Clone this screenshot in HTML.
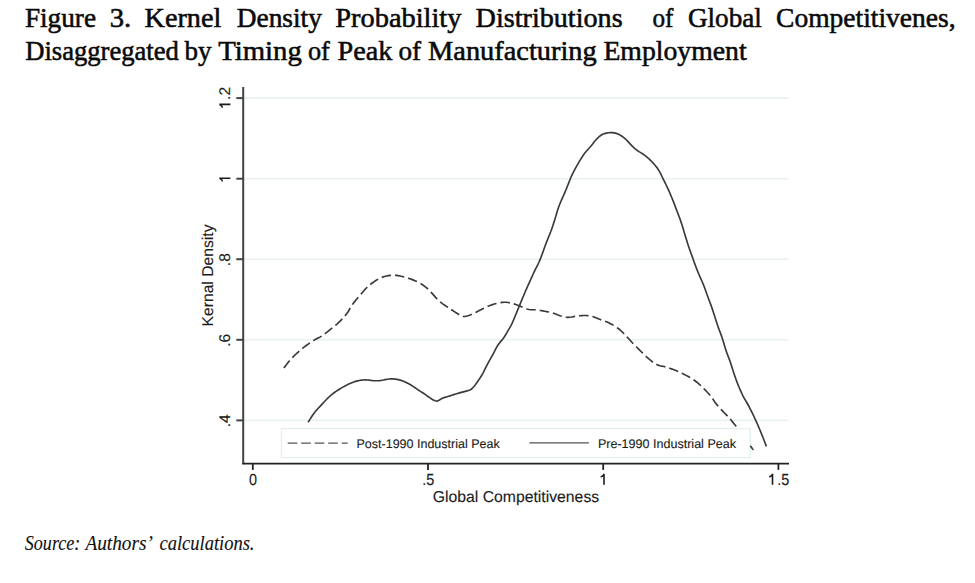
<!DOCTYPE html>
<html><head><meta charset="utf-8"><style>
html,body{margin:0;padding:0;background:#fff;width:975px;height:583px;overflow:hidden}
svg{position:absolute;left:0;top:0}
</style></head><body>
<svg width="975" height="583" viewBox="0 0 975 583">
<g font-family="Liberation Serif" font-weight="normal" font-size="27" fill="#0a0a0a" stroke="#0a0a0a" stroke-width="0.55"><text x="24.9" y="26.8" transform="translate(24.9 0) scale(1.009 1) translate(-24.9 0)">Figure</text><text x="109.7" y="26.8" transform="translate(109.7 0) scale(1.064 1) translate(-109.7 0)">3.</text><text x="144.5" y="26.8" transform="translate(144.5 0) scale(1.046 1) translate(-144.5 0)">Kernel</text><text x="236.8" y="26.8" transform="translate(236.8 0) scale(1.013 1) translate(-236.8 0)">Density</text><text x="335.3" y="26.8" transform="translate(335.3 0) scale(1.051 1) translate(-335.3 0)">Probability</text><text x="475.6" y="26.8" transform="translate(475.6 0) scale(1.043 1) translate(-475.6 0)">Distributions</text><text x="652.4" y="26.8" transform="translate(652.4 0) scale(0.933 1) translate(-652.4 0)">of</text><text x="687.9" y="26.8" transform="translate(687.9 0) scale(1.007 1) translate(-687.9 0)">Global</text><text x="776.1" y="26.8" transform="translate(776.1 0) scale(1.019 1) translate(-776.1 0)">Competitivenes,</text><text x="25.2" y="60.0" transform="translate(25.2 0) scale(0.986 1) translate(-25.2 0)">Disaggregated</text><text x="184.4" y="60.0" transform="translate(184.4 0) scale(1.000 1) translate(-184.4 0)">by</text><text x="218.2" y="60.0" transform="translate(218.2 0) scale(1.065 1) translate(-218.2 0)">Timing</text><text x="308.0" y="60.0" transform="translate(308.0 0) scale(0.973 1) translate(-308.0 0)">of</text><text x="337.5" y="60.0" transform="translate(337.5 0) scale(1.046 1) translate(-337.5 0)">Peak</text><text x="398.5" y="60.0" transform="translate(398.5 0) scale(1.004 1) translate(-398.5 0)">of</text><text x="428.1" y="60.0" transform="translate(428.1 0) scale(1.051 1) translate(-428.1 0)">Manufacturing</text><text x="603.4" y="60.0" transform="translate(603.4 0) scale(1.027 1) translate(-603.4 0)">Employment</text>
</g>
<g stroke="#eaf1f1" stroke-width="1.6" fill="none"><line x1="244" y1="420.4" x2="788.5" y2="420.4" /><line x1="244" y1="339.8" x2="788.5" y2="339.8" /><line x1="244" y1="259.2" x2="788.5" y2="259.2" /><line x1="244" y1="178.7" x2="788.5" y2="178.7" /><line x1="244" y1="98.1" x2="788.5" y2="98.1" /></g>
<rect x="281.5" y="428.6" width="468.6" height="28.9" fill="#fff" stroke="#e6efef" stroke-width="1.2"/>
<g fill="none" stroke="#3a3a3a" stroke-width="1.65" stroke-linejoin="round">
<path d="M308.10 422.30 L309.16 420.60 L310.22 418.89 L311.29 417.22 L312.39 415.55 L313.53 413.91 L314.74 412.32 L316.01 410.78 L317.34 409.28 L318.70 407.81 L320.06 406.35 L321.42 404.89 L322.77 403.41 L324.12 401.94 L325.49 400.47 L326.87 399.03 L328.29 397.62 L329.76 396.26 L331.27 394.96 L332.84 393.72 L334.44 392.52 L336.07 391.37 L337.74 390.26 L339.43 389.19 L341.14 388.16 L342.87 387.15 L344.62 386.19 L346.39 385.26 L348.18 384.37 L350.00 383.54 L351.83 382.75 L353.70 382.03 L355.59 381.40 L357.52 380.87 L359.47 380.45 L361.44 380.15 L363.43 379.96 L365.42 379.89 L367.41 379.96 L369.40 380.19 L371.37 380.47 L373.36 380.68 L375.35 380.75 L377.35 380.70 L379.34 380.56 L381.33 380.35 L383.30 380.05 L385.26 379.68 L387.22 379.29 L389.19 379.00 L391.18 378.87 L393.17 378.92 L395.16 379.10 L397.13 379.41 L399.08 379.83 L401.00 380.37 L402.88 381.05 L404.72 381.82 L406.53 382.67 L408.31 383.58 L410.06 384.56 L411.77 385.58 L413.45 386.66 L415.10 387.79 L416.74 388.94 L418.39 390.07 L420.08 391.14 L421.79 392.17 L423.49 393.22 L425.14 394.35 L426.74 395.54 L428.33 396.75 L429.97 397.89 L431.65 398.96 L433.38 399.95 L435.18 400.79 L437.12 401.16 L438.92 400.34 L440.57 399.26 L442.32 398.34 L444.16 397.60 L446.07 397.00 L447.99 396.44 L449.90 395.85 L451.80 395.25 L453.71 394.65 L455.62 394.06 L457.54 393.48 L459.45 392.91 L461.38 392.36 L463.31 391.84 L465.24 391.34 L467.18 390.84 L469.09 390.26 L470.92 389.50 L472.42 388.22 L473.76 386.75 L475.01 385.20 L476.20 383.59 L477.36 381.96 L478.49 380.31 L479.59 378.65 L480.67 376.97 L481.73 375.27 L482.73 373.54 L483.68 371.78 L484.57 369.99 L485.46 368.20 L486.35 366.40 L487.25 364.62 L488.17 362.85 L489.13 361.09 L490.12 359.36 L491.13 357.63 L492.13 355.89 L493.09 354.14 L494.00 352.36 L494.88 350.57 L495.77 348.78 L496.71 347.02 L497.76 345.32 L498.92 343.70 L500.18 342.15 L501.48 340.63 L502.75 339.08 L503.94 337.48 L505.04 335.82 L506.07 334.11 L507.07 332.37 L508.06 330.64 L509.09 328.92 L510.11 327.20 L511.07 325.45 L511.95 323.66 L512.76 321.83 L513.54 319.99 L514.31 318.14 L515.07 316.29 L515.82 314.44 L516.58 312.59 L517.35 310.74 L518.11 308.89 L518.88 307.05 L519.64 305.20 L520.40 303.35 L521.16 301.50 L521.92 299.65 L522.69 297.80 L523.46 295.96 L524.24 294.11 L525.03 292.28 L525.82 290.44 L526.63 288.61 L527.44 286.78 L528.25 284.96 L529.07 283.13 L529.89 281.31 L530.71 279.48 L531.53 277.66 L532.36 275.84 L533.19 274.02 L534.03 272.21 L534.89 270.40 L535.77 268.60 L536.68 266.82 L537.59 265.04 L538.47 263.25 L539.30 261.43 L540.07 259.58 L540.80 257.72 L541.51 255.85 L542.20 253.98 L542.89 252.10 L543.57 250.22 L544.25 248.34 L544.92 246.45 L545.60 244.57 L546.30 242.70 L547.02 240.83 L547.77 238.98 L548.53 237.13 L549.30 235.28 L550.05 233.43 L550.78 231.57 L551.47 229.69 L552.13 227.80 L552.78 225.91 L553.40 224.01 L554.02 222.11 L554.62 220.20 L555.21 218.29 L555.78 216.37 L556.33 214.45 L556.89 212.53 L557.47 210.62 L558.08 208.71 L558.73 206.82 L559.43 204.95 L560.18 203.09 L560.96 201.25 L561.77 199.42 L562.58 197.60 L563.41 195.78 L564.22 193.95 L565.02 192.12 L565.80 190.27 L566.55 188.42 L567.29 186.56 L568.01 184.70 L568.73 182.83 L569.46 180.97 L570.22 179.12 L571.00 177.28 L571.81 175.45 L572.66 173.64 L573.54 171.84 L574.45 170.06 L575.39 168.30 L576.36 166.55 L577.36 164.82 L578.37 163.09 L579.40 161.38 L580.45 159.68 L581.51 157.98 L582.59 156.30 L583.70 154.64 L584.86 153.01 L586.10 151.44 L587.44 149.96 L588.81 148.51 L590.15 147.03 L591.42 145.49 L592.66 143.92 L593.89 142.34 L595.16 140.80 L596.48 139.30 L597.86 137.85 L599.32 136.50 L600.90 135.30 L602.62 134.32 L604.46 133.60 L606.38 133.10 L608.35 132.77 L610.34 132.62 L612.32 132.65 L614.29 132.89 L616.22 133.36 L618.09 134.04 L619.87 134.92 L621.56 135.98 L623.17 137.16 L624.72 138.42 L626.19 139.76 L627.60 141.18 L628.96 142.64 L630.32 144.11 L631.70 145.56 L633.12 146.96 L634.59 148.31 L636.13 149.58 L637.75 150.75 L639.43 151.84 L641.13 152.89 L642.80 153.98 L644.43 155.14 L646.01 156.37 L647.54 157.65 L649.04 158.97 L650.51 160.33 L651.93 161.73 L653.31 163.18 L654.63 164.68 L655.89 166.23 L657.08 167.83 L658.21 169.48 L659.26 171.18 L660.24 172.92 L661.16 174.70 L662.03 176.50 L662.89 178.30 L663.75 180.11 L664.62 181.91 L665.50 183.71 L666.39 185.50 L667.26 187.30 L668.11 189.11 L668.94 190.93 L669.74 192.76 L670.52 194.60 L671.29 196.45 L672.05 198.30 L672.80 200.15 L673.53 202.01 L674.26 203.88 L674.97 205.74 L675.68 207.61 L676.39 209.48 L677.10 211.35 L677.81 213.22 L678.52 215.09 L679.23 216.96 L679.92 218.84 L680.60 220.72 L681.25 222.61 L681.88 224.51 L682.47 226.42 L683.05 228.34 L683.61 230.25 L684.17 232.17 L684.74 234.09 L685.32 236.01 L685.91 237.92 L686.50 239.83 L687.10 241.74 L687.70 243.64 L688.31 245.55 L688.93 247.45 L689.58 249.34 L690.27 251.22 L690.97 253.09 L691.67 254.96 L692.34 256.85 L692.99 258.74 L693.65 260.63 L694.31 262.52 L694.98 264.40 L695.68 266.27 L696.39 268.14 L697.12 270.00 L697.87 271.86 L698.62 273.71 L699.40 275.55 L700.20 277.39 L701.02 279.21 L701.85 281.03 L702.66 282.86 L703.43 284.70 L704.16 286.57 L704.85 288.44 L705.52 290.32 L706.19 292.21 L706.85 294.10 L707.53 295.98 L708.23 297.85 L708.94 299.72 L709.65 301.59 L710.35 303.47 L711.03 305.35 L711.69 307.24 L712.34 309.13 L712.98 311.02 L713.61 312.92 L714.23 314.82 L714.84 316.72 L715.44 318.63 L716.03 320.54 L716.62 322.45 L717.23 324.36 L717.88 326.25 L718.56 328.13 L719.27 330.00 L719.99 331.86 L720.71 333.73 L721.39 335.61 L722.04 337.50 L722.65 339.41 L723.24 341.32 L723.80 343.24 L724.37 345.15 L724.94 347.07 L725.53 348.98 L726.15 350.88 L726.81 352.77 L727.51 354.65 L728.22 356.51 L728.94 358.38 L729.65 360.25 L730.32 362.13 L730.94 364.03 L731.54 365.94 L732.12 367.85 L732.73 369.76 L733.36 371.66 L733.99 373.56 L734.63 375.45 L735.28 377.34 L735.95 379.23 L736.63 381.11 L737.34 382.98 L738.07 384.84 L738.83 386.69 L739.61 388.53 L740.41 390.36 L741.24 392.18 L742.09 393.99 L742.97 395.79 L743.90 397.56 L744.87 399.30 L745.88 401.03 L746.90 402.75 L747.90 404.48 L748.86 406.24 L749.79 408.01 L750.70 409.79 L751.59 411.58 L752.47 413.38 L753.33 415.18 L754.18 416.99 L755.02 418.81 L755.84 420.63 L756.66 422.46 L757.46 424.29 L758.26 426.12 L759.05 427.96 L759.83 429.80 L760.61 431.64 L761.37 433.49 L762.12 435.34 L762.86 437.20 L763.59 439.06 L764.32 440.93 L765.03 442.78 L765.74 444.66 L766.40 446.40 L766.40 446.40" />
<path d="M283.80 368.10 L285.01 366.51 L286.22 364.90 L287.44 363.33 L288.68 361.77 L289.97 360.24 L291.31 358.75 L292.69 357.30 L294.10 355.89 L295.55 354.51 L297.01 353.15 L298.50 351.81 L300.00 350.49 L301.53 349.20 L303.08 347.94 L304.66 346.71 L306.26 345.51 L307.88 344.34 L309.52 343.19 L311.17 342.06 L312.84 340.96 L314.53 339.90 L316.27 338.92 L318.05 338.02 L319.84 337.14 L321.57 336.15 L323.22 335.03 L324.82 333.83 L326.38 332.59 L327.94 331.33 L329.50 330.08 L331.07 328.84 L332.64 327.60 L334.21 326.35 L335.75 325.08 L337.26 323.78 L338.74 322.43 L340.17 321.04 L341.58 319.61 L342.95 318.16 L344.29 316.68 L345.59 315.16 L346.83 313.59 L347.97 311.96 L349.01 310.25 L349.98 308.51 L350.97 306.77 L352.04 305.08 L353.20 303.46 L354.43 301.88 L355.69 300.33 L356.97 298.79 L358.26 297.27 L359.56 295.75 L360.86 294.23 L362.15 292.70 L363.45 291.18 L364.77 289.67 L366.14 288.22 L367.57 286.83 L369.07 285.51 L370.61 284.24 L372.20 283.02 L373.82 281.85 L375.48 280.73 L377.17 279.67 L378.91 278.70 L380.71 277.84 L382.57 277.11 L384.47 276.52 L386.41 276.04 L388.37 275.66 L390.35 275.37 L392.34 275.21 L394.33 275.19 L396.32 275.34 L398.29 275.63 L400.25 276.01 L402.20 276.45 L404.14 276.94 L406.07 277.47 L407.98 278.06 L409.88 278.70 L411.75 279.38 L413.61 280.12 L415.45 280.92 L417.25 281.77 L419.03 282.68 L420.77 283.66 L422.47 284.72 L424.10 285.87 L425.67 287.10 L427.18 288.41 L428.64 289.78 L430.07 291.18 L431.46 292.61 L432.80 294.09 L434.11 295.60 L435.42 297.12 L436.76 298.59 L438.17 300.01 L439.63 301.37 L441.16 302.66 L442.75 303.88 L444.38 305.03 L446.04 306.14 L447.71 307.24 L449.39 308.32 L451.06 309.42 L452.72 310.54 L454.38 311.66 L456.06 312.75 L457.75 313.81 L459.46 314.85 L461.19 315.81 L463.06 316.50 L465.04 316.50 L466.98 316.06 L468.88 315.45 L470.75 314.74 L472.58 313.96 L474.39 313.10 L476.17 312.19 L477.94 311.26 L479.72 310.34 L481.49 309.42 L483.27 308.50 L485.06 307.61 L486.87 306.76 L488.71 305.99 L490.58 305.28 L492.47 304.63 L494.38 304.04 L496.30 303.49 L498.24 303.01 L500.20 302.61 L502.17 302.34 L504.16 302.23 L506.15 302.30 L508.13 302.54 L510.09 302.91 L512.04 303.36 L513.96 303.89 L515.87 304.51 L517.74 305.20 L519.59 305.95 L521.44 306.72 L523.27 307.52 L525.10 308.32 L526.96 309.03 L528.88 309.53 L530.84 309.74 L532.83 309.75 L534.82 309.76 L536.81 309.90 L538.79 310.17 L540.76 310.51 L542.73 310.87 L544.69 311.23 L546.66 311.58 L548.63 311.95 L550.58 312.37 L552.50 312.91 L554.38 313.57 L556.24 314.31 L558.10 315.04 L559.98 315.71 L561.88 316.33 L563.80 316.87 L565.76 317.23 L567.73 317.37 L569.72 317.27 L571.70 317.01 L573.67 316.66 L575.64 316.32 L577.61 316.04 L579.60 315.80 L581.59 315.60 L583.58 315.48 L585.58 315.47 L587.57 315.58 L589.55 315.84 L591.50 316.25 L593.41 316.81 L595.29 317.50 L597.14 318.24 L598.99 319.00 L600.86 319.72 L602.73 320.42 L604.61 321.11 L606.47 321.83 L608.31 322.61 L610.11 323.47 L611.88 324.40 L613.62 325.40 L615.32 326.45 L616.98 327.56 L618.59 328.74 L620.14 330.00 L621.63 331.33 L623.07 332.72 L624.46 334.15 L625.83 335.61 L627.18 337.09 L628.51 338.57 L629.85 340.06 L631.20 341.54 L632.58 342.99 L633.98 344.41 L635.40 345.82 L636.82 347.23 L638.23 348.64 L639.64 350.06 L641.04 351.49 L642.45 352.91 L643.87 354.32 L645.32 355.70 L646.79 357.05 L648.28 358.39 L649.78 359.71 L651.31 360.99 L652.89 362.22 L654.52 363.36 L656.25 364.35 L658.06 365.15 L659.96 365.71 L661.90 366.09 L663.85 366.48 L665.78 366.98 L667.69 367.57 L669.59 368.20 L671.48 368.87 L673.35 369.57 L675.21 370.30 L677.06 371.06 L678.90 371.85 L680.71 372.69 L682.52 373.55 L684.30 374.45 L686.08 375.36 L687.85 376.30 L689.60 377.27 L691.31 378.30 L692.99 379.39 L694.63 380.53 L696.23 381.73 L697.79 382.97 L699.31 384.27 L700.78 385.63 L702.21 387.02 L703.62 388.44 L705.03 389.86 L706.42 391.30 L707.79 392.75 L709.15 394.22 L710.46 395.73 L711.69 397.30 L712.82 398.95 L713.89 400.63 L714.99 402.30 L716.19 403.89 L717.49 405.40 L718.83 406.88 L720.17 408.37 L721.50 409.86 L722.86 411.33 L724.24 412.77 L725.65 414.19 L727.06 415.61 L728.45 417.05 L729.79 418.53 L731.08 420.06 L732.34 421.61 L733.60 423.16 L734.86 424.72 L736.10 426.28 L737.32 427.86 L738.51 429.47 L739.67 431.10 L740.82 432.74 L741.96 434.38 L743.11 436.02 L744.26 437.65 L745.43 439.28 L746.60 440.90 L747.78 442.51 L748.96 444.13 L750.14 445.74 L751.32 447.32 L752.54 448.94 L753.50 450.20 L753.50 450.20" stroke-dasharray="9.5 4" />
</g>
<rect x="281.5" y="428.6" width="468.6" height="28.9" fill="#fff" stroke="#e6efef" stroke-width="1.2"/>
<path d="M744 436.5 C746 439.6 748.3 442.8 750.4 446.1 L753.5 450.2" fill="none" stroke="#333" stroke-width="1.3" stroke-dasharray="0 11.3 5.6 20" />
<g stroke="#333" stroke-width="1.3">
<line x1="287.7" y1="443.2" x2="347.7" y2="443.2" stroke-dasharray="9.6 3.9" stroke="#555"/>
<line x1="529.4" y1="442.8" x2="588.9" y2="442.8" stroke="#555"/>
</g>
<g stroke="#444" stroke-width="2">
<line x1="243.2" y1="87" x2="243.2" y2="464.3" />
<line x1="236.3" y1="420.4" x2="243.2" y2="420.4" /><line x1="236.3" y1="339.8" x2="243.2" y2="339.8" /><line x1="236.3" y1="259.2" x2="243.2" y2="259.2" /><line x1="236.3" y1="178.7" x2="243.2" y2="178.7" /><line x1="236.3" y1="98.1" x2="243.2" y2="98.1" />
</g>
<g stroke="#222" stroke-width="1.8">
<line x1="242.4" y1="463.6" x2="789.0" y2="463.6" />
<line x1="252.8" y1="463.5" x2="252.8" y2="469.9" /><line x1="428.0" y1="463.5" x2="428.0" y2="469.9" /><line x1="603.2" y1="463.5" x2="603.2" y2="469.9" /><line x1="778.4" y1="463.5" x2="778.4" y2="469.9" />
</g>
<g font-family="Liberation Sans" font-size="15.5" fill="#1c1c1c" stroke="#1c1c1c" stroke-width="0.12" text-rendering="geometricPrecision"><text transform="translate(230.3 420.9) rotate(-90)" text-anchor="middle">.4</text><text transform="translate(230.3 340.3) rotate(-90)" text-anchor="middle">.6</text><text transform="translate(230.3 259.7) rotate(-90)" text-anchor="middle">.8</text><path d="M0 -11.1 L1.6 -11.1 L1.6 0 L0 0 L0 -8.3 C-0.7 -7.7 -1.6 -7.4 -2.6 -7.3 L-2.6 -8.7 C-1.4 -9.0 -0.4 -9.8 0 -11.1 Z" transform="translate(230.4 179.0) rotate(-90)" stroke="none"/><path d="M0 -11.1 L1.6 -11.1 L1.6 0 L0 0 L0 -8.3 C-0.7 -7.7 -1.6 -7.4 -2.6 -7.3 L-2.6 -8.7 C-1.4 -9.0 -0.4 -9.8 0 -11.1 Z" transform="translate(230.4 105.2) rotate(-90)" stroke="none"/><text transform="translate(230.3 99.9) rotate(-90)" text-anchor="start">.2</text><text transform="translate(253.0 485.0) scale(0.93 1.04)" text-anchor="middle" font-size="15.5">0</text><text transform="translate(428.3 485.0) scale(0.93 1.04)" text-anchor="middle" font-size="15.5">.5</text><path d="M0 -11.1 L1.6 -11.1 L1.6 0 L0 0 L0 -8.3 C-0.7 -7.7 -1.6 -7.4 -2.6 -7.3 L-2.6 -8.7 C-1.4 -9.0 -0.4 -9.8 0 -11.1 Z" transform="translate(603.2 484.8)" stroke="none"/><path d="M0 -11.1 L1.6 -11.1 L1.6 0 L0 0 L0 -8.3 C-0.7 -7.7 -1.6 -7.4 -2.6 -7.3 L-2.6 -8.7 C-1.4 -9.0 -0.4 -9.8 0 -11.1 Z" transform="translate(771.7 484.8)" stroke="none"/><text transform="translate(777.2 485.0) scale(0.93 1.04)" text-anchor="start" font-size="15.5">.5</text>
<text x="432.8" y="502.2" font-size="15.75">Global Competitiveness</text>
<text transform="translate(212.7 275.5) rotate(-90)" text-anchor="middle" font-size="15.7">Kernal Density</text>
<text x="356.5" y="448.1" font-size="12.5">Post-1990 Industrial Peak</text>
<text x="597.9" y="448.1" font-size="12.55">Pre-1990 Industrial Peak</text>
</g>
<g font-family="Liberation Serif" font-style="italic" font-size="22" fill="#111" stroke="#111" stroke-width="0.12" lengthAdjust="spacingAndGlyphs">
<text x="24.8" y="549.8" textLength="55.5" lengthAdjust="spacingAndGlyphs">Source:</text>
<text x="85.4" y="549.8" textLength="67.5" lengthAdjust="spacingAndGlyphs">Authors’</text>
<text x="159.5" y="549.8" textLength="95" lengthAdjust="spacingAndGlyphs">calculations.</text>
</g>
</svg>
</body></html>
